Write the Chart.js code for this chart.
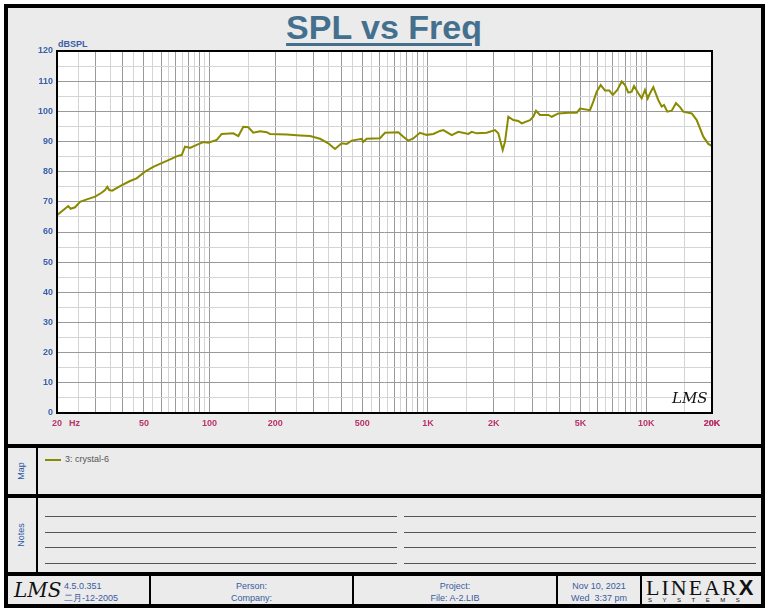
<!DOCTYPE html>
<html lang="en">
  <head>
    <meta charset="UTF-8" />
    <title>SPL vs Freq</title>
    <script src="https://cdn.jsdelivr.net/npm/chart.js"></script>
    <style>
      body {
        margin: 0;
        width: 768px;
        height: 613px;
        background: #ffffff;
        font-family: "Liberation Sans", Arial, sans-serif;
        position: relative;
        overflow: hidden;
      }
      .abs { position: absolute; }
      .frame {
        left: 4px; top: 4px; width: 761px; height: 604px;
        border: 4px solid #000; box-sizing: border-box;
        background: #ebebeb;
      }
      .hbar { left: 4px; width: 761px; height: 4px; background: #000; }
      .vbar { width: 2px; background: #000; }
      .title {
        left: 0; width: 768px; top: 8px; text-align: center;
        font-size: 34px; font-weight: bold; color: #44708e;
        text-decoration: underline; text-decoration-thickness: 3px;
        text-underline-offset: 4px;
      }
      .unit { font-size: 9px; font-weight: bold; color: #3a5ea8; }
      .side {
        font-size: 9px; color: #2a5aa8;
        transform: translate(-50%, -50%) rotate(-90deg);
        white-space: nowrap;
      }
      .note { height: 1px; background: #555; }
      .foot {
        font-size: 9px; color: #3a5aa0; text-align: center; line-height: 12px;
      }
      #wrap { left: 0; top: 0; width: 768px; height: 444px; }
    </style>
  </head>
  <body>
    <div class="abs frame"></div>
    <div class="abs hbar" style="top: 444px"></div>
    <div class="abs hbar" style="top: 494px"></div>
    <div class="abs hbar" style="top: 572px"></div>
    <div class="abs vbar" style="left: 36px; top: 448px; height: 124px"></div>
    <div class="abs vbar" style="left: 149px; top: 576px; height: 28px"></div>
    <div class="abs vbar" style="left: 352px; top: 576px; height: 28px"></div>
    <div class="abs vbar" style="left: 556px; top: 576px; height: 28px"></div>
    <div class="abs vbar" style="left: 640px; top: 576px; height: 28px"></div>

    <div class="abs title">SPL vs Freq</div>
    <div class="abs unit" style="left: 58px; top: 39px">dBSPL</div>
    <div class="abs unit" style="left: 69px; top: 418px; color: #b8336a">Hz</div>

    <div id="wrap" class="abs"><canvas id="splChart"></canvas></div>
    <div class="abs" style="left: 672px; top: 389px; font: italic 15px 'DejaVu Serif', serif; color: #111">LMS</div>

    <!-- Map -->
    <div class="abs side" style="left: 21px; top: 471px">Map</div>
    <div class="abs" style="left: 45px; top: 459px; width: 16px; height: 2px; background: #8a8a00"></div>
    <div class="abs" style="left: 65px; top: 454px; font-size: 9px; color: #555">3: crystal-6</div>

    <!-- Notes -->
    <div class="abs side" style="left: 21px; top: 535px">Notes</div>
    <div class="abs note" style="left: 45px; width: 352px; top: 516px"></div>
    <div class="abs note" style="left: 45px; width: 352px; top: 532px"></div>
    <div class="abs note" style="left: 45px; width: 352px; top: 547px"></div>
    <div class="abs note" style="left: 45px; width: 352px; top: 563px"></div>
    <div class="abs note" style="left: 404px; width: 352px; top: 516px"></div>
    <div class="abs note" style="left: 404px; width: 352px; top: 532px"></div>
    <div class="abs note" style="left: 404px; width: 352px; top: 547px"></div>
    <div class="abs note" style="left: 404px; width: 352px; top: 563px"></div>

    <!-- Footer -->
    <div class="abs" style="left: 14px; top: 578px; font: italic 20px 'DejaVu Serif', serif; color: #111">LMS</div>
    <div class="abs foot" style="left: 64px; top: 580px; text-align: left">4.5.0.351<br />二月-12-2005</div>
    <div class="abs foot" style="left: 151px; width: 201px; top: 580px">Person:<br />Company:</div>
    <div class="abs foot" style="left: 354px; width: 202px; top: 580px">Project:<br />File: A-2.LIB</div>
    <div class="abs foot" style="left: 558px; width: 82px; top: 580px">Nov 10, 2021<br />Wed&nbsp; 3:37 pm</div>
    <div class="abs" style="left: 646px; top: 575px; font: 22px 'Liberation Serif', serif; letter-spacing: 2px; color: #111">LINEAR<b style="font-family: 'Liberation Sans', Arial, sans-serif">X</b></div>
    <div class="abs" style="left: 648px; top: 597px; font-size: 6px; letter-spacing: 10.5px; color: #111">SYSTEMS</div>

    <script>
      // Frequency response (Hz, dB SPL)
      const freqs = [
        20, 21.4, 22.5, 23.1, 24.2, 25.5, 27.4, 29.9, 32.0, 33.2, 34.0, 34.7, 35.8, 38.9,
        43.2, 46.3, 50.6, 55.2, 61.4, 67.1, 71.9, 74.5, 77.2, 81.3, 87.3, 93.6, 98.6,
        107.8, 113.6, 128.4, 135.4, 142.7, 150.4, 158.5, 170.1, 182.6, 189.1, 225.6,
        259.4, 288.2, 320.4, 349.6, 375.2, 402.8, 424.6, 447.6, 497.4, 505.8, 524.2,
        603.2, 635.8, 731.6, 771.2, 812.8, 856.8, 919.6, 987, 1058, 1136, 1176, 1285,
        1378, 1531, 1587, 1673, 1859, 2028, 2100, 2200, 2254, 2334, 2460, 2594, 2688,
        2934, 3038, 3126, 3260, 3560, 3690, 3956, 4396, 4802, 4972, 5524, 5720, 5930,
        6186, 6472, 6772, 7020, 7370, 7720, 7992, 8274, 8576, 8788, 9194, 9528, 9866,
        10152, 10400, 10770, 11352, 11766, 12056, 12484, 13074, 13680, 14272, 14776,
        16150, 17022, 18248, 19236, 20000
      ];
      const spl = [
        65.6, 67.3, 68.6, 67.7, 68.2, 70.0, 70.8, 71.7, 73.0, 73.9, 75.0, 73.9, 73.7, 75.2,
        76.9, 77.8, 80.0, 81.6, 83.1, 84.3, 85.3, 85.5, 88.3, 87.9, 88.9, 89.8, 89.6,
        90.5, 92.5, 92.7, 91.8, 94.9, 94.7, 92.9, 93.4, 93.1, 92.5, 92.3,
        92.0, 91.8, 90.9, 89.4, 87.5, 89.4, 89.2, 90.3, 90.9, 89.9, 90.9,
        91.1, 92.9, 93.1, 91.6, 90.3, 91.0, 92.9, 92.2, 92.5, 93.5, 93.8, 92.1,
        93.2, 92.5, 93.2, 92.7, 92.9, 93.8, 92.7, 87.2, 89.9, 98.2, 97.1, 96.8, 96.0,
        97.1, 98.2, 100.2, 98.8, 98.8, 98.2, 99.3, 99.5, 99.5, 100.9, 100.4, 103.2, 106.5,
        108.7, 106.9, 106.9, 105.4, 107.1, 109.9, 108.7, 106.2, 106.5, 108.4, 106.0, 104.3, 107.1,
        104.3, 106.0, 108.0, 103.7, 101.6, 102.1, 99.9, 100.2, 102.7, 101.4, 99.9,
        99.3, 97.1, 91.6, 89.2, 88.5
      ];

      const xLabelValues = [20, 50, 100, 200, 500, 1000, 2000, 5000, 10000, 20000];
      const xLabelText = ["20", "50", "100", "200", "500", "1K", "2K", "5K", "10K", "20K"];
      const yLabelValues = [0, 10, 20, 30, 40, 50, 60, 70, 80, 90, 100, 110, 120];

      // grid: every half step of each decade, dark on whole steps
      const xGrid = [];
      [10, 100, 1000, 10000].forEach((dec) => {
        for (let m = 1; m < 10; m += 0.5) {
          const v = Math.round(m * dec);
          if (v >= 20 && v <= 20000) xGrid.push(v);
        }
      });
      xGrid.push(20000);
      const yGrid = [];
      for (let v = 0; v <= 120; v += 5) yGrid.push(v);

      const isWholeStep = (v) => {
        const m = v / Math.pow(10, Math.floor(Math.log10(v) + 1e-9));
        return Math.abs(m - Math.round(m)) < 1e-6;
      };

      const plotFrame = {
        id: "plotFrame",
        beforeDraw(chart) {
          const a = chart.chartArea;
          const ctx = chart.ctx;
          ctx.save();
          ctx.fillStyle = "#ffffff";
          ctx.fillRect(a.left, a.top, a.right - a.left, a.bottom - a.top);
          ctx.restore();
        },
        afterDraw(chart) {
          const a = chart.chartArea;
          const ctx = chart.ctx;
          ctx.save();
          ctx.strokeStyle = "#000";
          ctx.lineWidth = 2;
          ctx.strokeRect(a.left, a.top, a.right - a.left, a.bottom - a.top);
          ctx.restore();
        },
      };

      new Chart(document.getElementById("splChart"), {
        type: "line",
        data: {
          datasets: [
            {
              label: "3: crystal-6",
              data: freqs.map((f, i) => ({ x: f, y: spl[i] })),
              borderColor: "#8a8a00",
              borderWidth: 2,
              pointRadius: 0,
              tension: 0,
            },
          ],
        },
        options: {
          responsive: true,
          maintainAspectRatio: false,
          animation: false,
          layout: { padding: { left: 27, top: 51, right: 56, bottom: 11 } },
          plugins: { legend: { display: false }, tooltip: { enabled: false } },
          scales: {
            x: {
              type: "logarithmic",
              min: 20,
              max: 20000,
              afterBuildTicks: (s) => { s.ticks = xGrid.map((v) => ({ value: v })); },
              afterFit: (s) => { s.height = 20; },
              grid: {
                drawTicks: false,
                color: (c) => (c.tick && isWholeStep(c.tick.value) ? "#9a9a9a" : "#d4d4d4"),
              },
              border: { display: false },
              ticks: {
                autoSkip: false,
                maxRotation: 0,
                padding: 5,
                color: "#b8336a",
                font: { family: "Liberation Sans, Arial", size: 9, weight: "bold" },
                callback: (v) => {
                  const i = xLabelValues.indexOf(v);
                  return i >= 0 ? xLabelText[i] : "";
                },
              },
            },
            y: {
              min: 0,
              max: 120,
              afterBuildTicks: (s) => { s.ticks = yGrid.map((v) => ({ value: v })); },
              afterFit: (s) => { s.width = 30; },
              grid: {
                drawTicks: false,
                color: (c) => (c.tick && c.tick.value % 10 === 0 ? "#9a9a9a" : "#d4d4d4"),
              },
              border: { display: false },
              ticks: {
                autoSkip: false,
                padding: 4,
                color: "#3a5ea8",
                font: { family: "Liberation Sans, Arial", size: 9, weight: "bold" },
                callback: (v) => (yLabelValues.includes(v) ? String(v) : ""),
              },
            },
          },
        },
        plugins: [plotFrame],
      });
    </script>
  </body>
</html>
